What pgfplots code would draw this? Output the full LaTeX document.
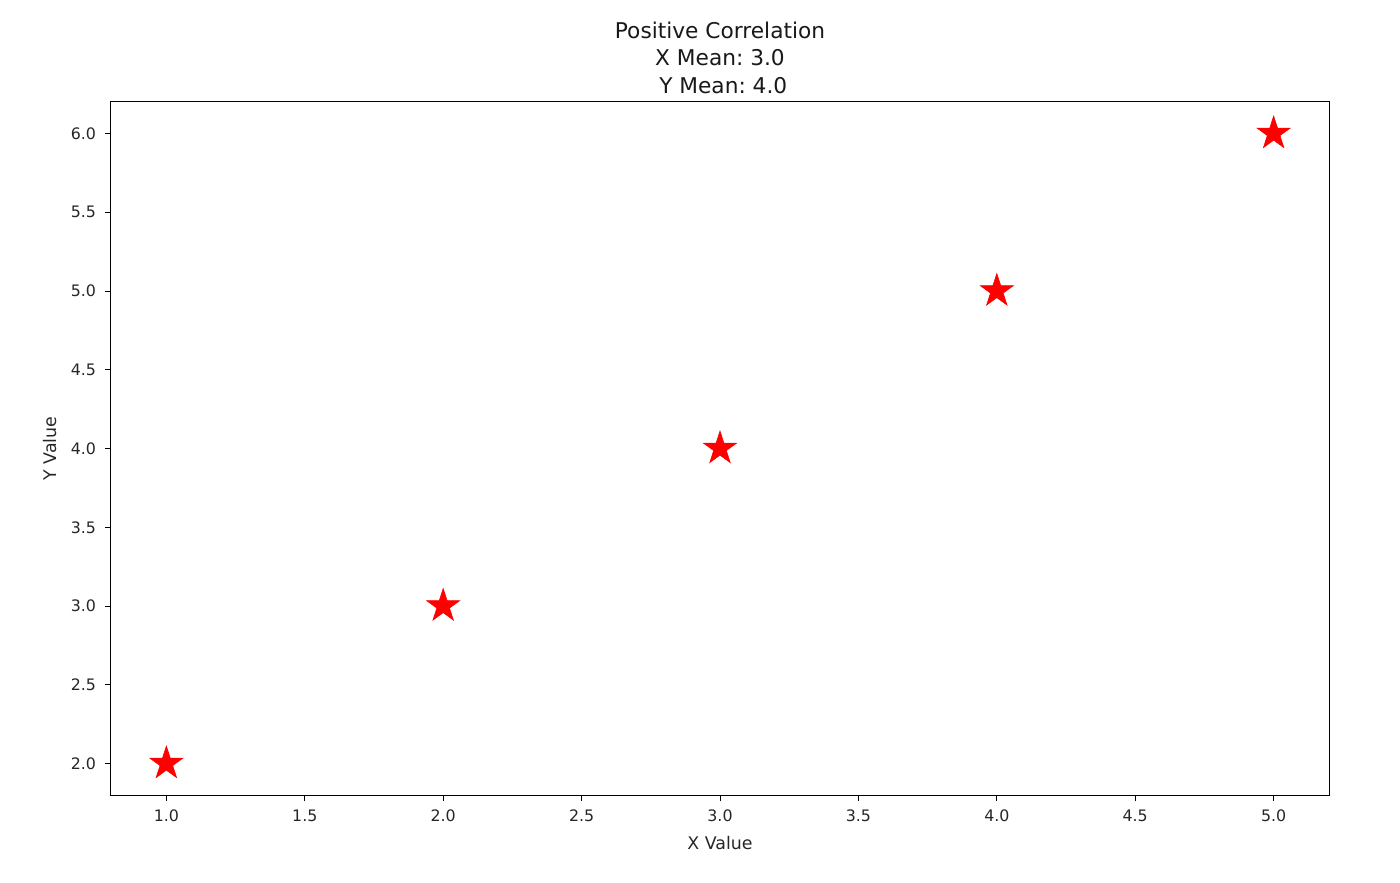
\documentclass[border=0pt]{standalone}
\usepackage{pgfplots}
\pgfplotsset{compat=1.18}
\usepackage{fontspec}
\setmainfont{DejaVu Sans}
\frenchspacing
\pgfdeclareplotmark{fstar}{%
  \pgfpathmoveto{\pgfqpointpolar{90}{\pgfplotmarksize}}%
  \pgfpathlineto{\pgfqpointpolar{126}{0.382\pgfplotmarksize}}%
  \pgfpathlineto{\pgfqpointpolar{162}{\pgfplotmarksize}}%
  \pgfpathlineto{\pgfqpointpolar{198}{0.382\pgfplotmarksize}}%
  \pgfpathlineto{\pgfqpointpolar{234}{\pgfplotmarksize}}%
  \pgfpathlineto{\pgfqpointpolar{270}{0.382\pgfplotmarksize}}%
  \pgfpathlineto{\pgfqpointpolar{306}{\pgfplotmarksize}}%
  \pgfpathlineto{\pgfqpointpolar{342}{0.382\pgfplotmarksize}}%
  \pgfpathlineto{\pgfqpointpolar{18}{\pgfplotmarksize}}%
  \pgfpathlineto{\pgfqpointpolar{54}{0.382\pgfplotmarksize}}%
  \pgfpathclose\pgfusepathqfillstroke}
\begin{document}
\begin{tikzpicture}
\begin{axis}[
  at={(0pt,0pt)}, anchor=south west,
  scale only axis, width=609pt, height=346.5pt,
  xmin=0.8, xmax=5.2, ymin=1.8, ymax=6.2,
  xtick={1,1.5,...,5}, ytick={2,2.5,...,6},
  /pgf/number format/assume math mode=true,
  /pgf/number format/.cd, fixed, fixed zerofill, precision=1, /pgfplots/.cd,
  tick align=outside, major tick length=3pt,
  tick style={black, line width=0.4pt},
  xtick pos=bottom, ytick pos=left,
  axis line style={line width=0.5pt},
  ticklabel style={font=\fontsize{7.9}{9.5}\selectfont, color=black!85},
  xticklabel style={yshift=-1pt},
  yticklabel style={xshift=-1pt},
  xlabel={X Value}, ylabel={Y Value},
  label style={font=\fontsize{8.7}{10.5}\selectfont, color=black!85},
  xlabel style={yshift=-0.5pt},
  ylabel style={yshift=0pt},
  title={Positive Correlation\\X Mean: 3.0\\\hspace*{0.3em}Y Mean: 4.0},
  title style={font=\fontsize{10.85}{13.75}\selectfont, align=center, at={(0.5,1)}, anchor=south, inner sep=0pt, yshift=-2pt, color=black!90},
]
\addplot[only marks, mark=fstar, mark size=8.7pt, color=red, fill=red, line width=0.3pt] coordinates {
(1,2) (2,3) (3,4) (4,5) (5,6)
};
\end{axis}
\path[use as bounding box] (-55.5pt,-43.5pt) rectangle (644.5pt,397.5pt);
\end{tikzpicture}
\end{document}
